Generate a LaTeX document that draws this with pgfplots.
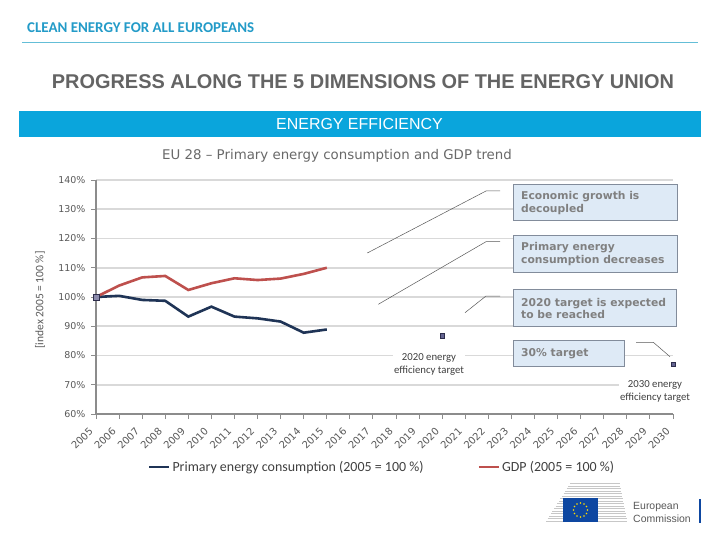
\documentclass[border=0pt]{standalone}
\usepackage{pgfplots}
\pgfplotsset{compat=1.18}
\usepackage{fontspec}
\usepackage{graphicx}
\setmainfont{DejaVu Sans}
\newfontfamily\arial{Liberation Sans}
\newfontfamily\calib{Carlito}
\definecolor{hdr}{RGB}{35,155,200}
\definecolor{hdrline}{RGB}{100,190,215}
\definecolor{banner}{RGB}{10,165,220}
\definecolor{titlegray}{RGB}{100,100,100}
\definecolor{subgray}{RGB}{105,105,105}
\definecolor{tickgray}{RGB}{89,89,89}
\definecolor{legtext}{RGB}{64,64,64}
\definecolor{axisgray}{RGB}{140,140,140}
\definecolor{gridgray}{RGB}{217,217,217}
\definecolor{pecblue}{RGB}{31,52,86}
\definecolor{gdpred}{RGB}{190,80,77}
\definecolor{boxfill}{RGB}{222,234,246}
\definecolor{boxdraw}{RGB}{130,140,155}
\definecolor{boxtext}{RGB}{128,128,128}
\definecolor{mkfill}{RGB}{100,100,145}
\definecolor{mkdraw}{RGB}{45,45,75}
\definecolor{ecblue}{RGB}{14,71,161}
\definecolor{ecstar}{RGB}{255,220,0}
\begin{document}
\begin{tikzpicture}[x=1bp,y=-1bp]
\fill[white] (0,0) rectangle (720,540);
% header
\node[anchor=west, text=hdr, font=\calib\bfseries\fontsize{15}{17}\selectfont, inner sep=0] at (27,28) {CLEAN ENERGY FOR ALL EUROPEANS};
\draw[hdrline, line width=1bp] (22,43) -- (698,43);
\node[font=\arial\bfseries\fontsize{20}{22}\selectfont, text=titlegray, inner sep=0] at (363,82) {PROGRESS ALONG THE 5 DIMENSIONS OF THE ENERGY UNION};
\fill[banner] (19,111) rectangle (701,137);
\node[text=white, font=\arial\fontsize{16}{18}\selectfont, inner sep=0] at (359.5,124.5) {ENERGY EFFICIENCY};
\node[text=subgray, font=\fontsize{13.4}{15}\selectfont, inner sep=0] at (337,156) {EU 28 -- Primary energy consumption and GDP trend};
\node[rotate=90, font=\calib\fontsize{11.5}{13}\selectfont, text=tickgray] at (40,300) {[index 2005 = 100 \%]};
\begin{axis}[
  at={(96bp,-414bp)}, anchor=south west,
  scale only axis, width=577bp, height=234bp,
  xmin=2005, xmax=2030, ymin=60, ymax=140,
  xtick={2005,2006,...,2030},
  ytick={60,70,...,140},
  axis lines*=left,
  axis line style={draw=axisgray, line width=1.6bp},
  ymajorgrids, grid style={draw=gridgray, line width=1.6bp},
  tick align=outside, major tick length=5bp,
  tick style={draw=axisgray, line width=1bp},
  /pgf/number format/assume math mode=true,
  /pgf/number format/1000 sep={},
  yticklabel={\pgfmathprintnumber{\tick}\%},
  ticklabel style={font=\fontsize{9.5}{10}\selectfont, text=tickgray},
  yticklabel style={xshift=-2bp},
  xticklabel style={xshift=-2.5bp, yshift=-8bp, rotate=45, anchor=east, font=\fontsize{10}{11}\selectfont},
  clip=false,
  legend columns=2,
  legend style={at={(0.4957,-0.226)}, anchor=center, draw=none, fill=none,
    font=\calib\fontsize{14}{16}\selectfont, text=legtext,
    /tikz/every even column/.append style={column sep=52bp}},
  legend image code/.code={\draw[#1] (0bp,0bp) -- (20bp,0bp);},
]
\addplot[pecblue, line width=2.6bp] coordinates {(2005,100)(2006,100.4)(2007,99.0)(2008,98.7)(2009,93.3)(2010,96.7)(2011,93.3)(2012,92.7)(2013,91.6)(2014,87.8)(2015,88.9)};
\addlegendentry{Primary energy consumption (2005 = 100 \%)}
\addplot[gdpred, line width=2.6bp] coordinates {(2005,100)(2006,103.9)(2007,106.7)(2008,107.2)(2009,102.4)(2010,104.7)(2011,106.4)(2012,105.8)(2013,106.3)(2014,107.9)(2015,110.0)};
\addlegendentry{GDP (2005 = 100 \%)}
\addplot[only marks, mark=square*, mark size=2.8bp, mark options={fill=mkfill!75!white, draw=mkdraw, line width=0.6bp}, forget plot] coordinates {(2005,100)};
\addplot[only marks, mark=square*, mark size=2.2bp, mark options={fill=mkfill, draw=mkdraw, line width=0.5bp}, forget plot] coordinates {(2020,86.7)(2030,77.1)};
\end{axis}
% annotations
\tikzset{leader/.style={draw=black!65, line width=0.5bp}, abox/.style={fill=boxfill, draw=boxdraw, line width=0.8bp}, atext/.style={anchor=west, align=left, font=\bfseries\fontsize{10.8}{13}\selectfont, text=boxtext, inner sep=0}}
\draw[leader] (367.3,253) -- (486,191) -- (500,191);
\draw[leader] (378.3,304.3) -- (486,241.7) -- (500,241.7);
\draw[leader] (465,312.7) -- (486,296) -- (500,296);
\draw[leader] (636,342.3) -- (653.3,342.3) -- (670,356.7);
\filldraw[abox] (513,184.5) rectangle (677.5,220.5);
\node[atext] at (521,203.5) {Economic growth is\\decoupled};
\filldraw[abox] (513,235.5) rectangle (677.5,272);
\node[atext] at (521,254.5) {Primary energy\\consumption decreases};
\filldraw[abox] (513,289.5) rectangle (676.5,326.5);
\node[atext] at (521,308.5) {2020 target is expected\\to be reached};
\filldraw[abox] (513,340.5) rectangle (624.5,366);
\node[atext] at (521,353.5) {30\% target};
\node[fill=white, inner sep=1bp, font=\calib\fontsize{10.8}{13}\selectfont, text=legtext, align=center] at (429,364) {2020 energy\\efficiency target};
\node[fill=white, inner sep=1bp, font=\calib\fontsize{10.8}{13}\selectfont, text=legtext, align=center] at (655,391.5) {2030 energy\\efficiency target};
% logo
\foreach \i in {0,...,15}{
  \pgfmathsetmacro\yy{521-2.5*\i}
  \pgfmathsetmacro\xl{546+1.6*\i}
  \pgfmathsetmacro\xr{627-0.5*\i}
  \draw[black!22, line width=1bp] (\xl,\yy) -- (\xr,\yy);
}
\fill[ecblue] (563,498) rectangle (598,522);
\foreach \a in {0,30,...,330}{\fill[ecstar] ([shift={(\a:7)}]580.5,510) circle (0.9);}
\node[anchor=west, font=\arial\fontsize{10.5}{13}\selectfont, text=black!65, align=left, inner sep=0] at (633,512.5) {European\\Commission};
\draw[ecblue, line width=1.5bp] (700,499) -- (700,523);
\end{tikzpicture}
\end{document}
